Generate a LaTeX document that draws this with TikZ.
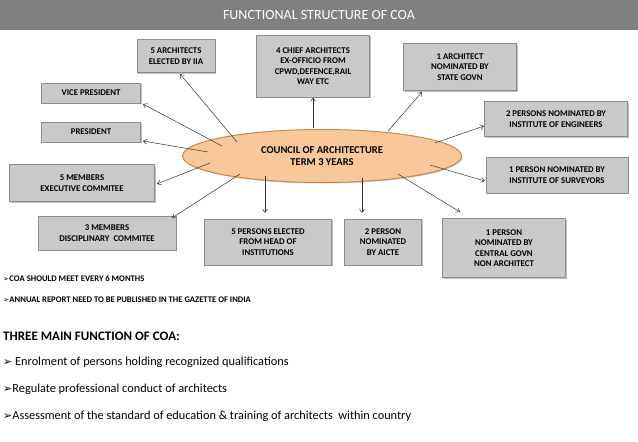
\documentclass[tikz,border=0pt]{standalone}
\usepackage{fontspec}
\setmainfont{Carlito}
\newfontfamily\djvfont{DejaVu Sans}
\usetikzlibrary{shadows,shapes.geometric,arrows.meta}
\definecolor{boxg}{HTML}{C9C9C9}
\definecolor{boxd}{HTML}{8C8C8C}
\definecolor{ell}{HTML}{F8C89A}
\definecolor{elld}{HTML}{C8874A}
\tikzset{
 bx/.style={draw=boxd,line width=1pt,fill=boxg,font=\fontsize{8.8}{10.3}\selectfont\bfseries,align=center,inner sep=1.5pt,drop shadow={shadow xshift=1.2pt,shadow yshift=-1.2pt,opacity=0.5}},
 ar/.style={-{Straight Barb[length=3.5pt,width=5pt]},line width=0.5pt,draw=black!80},
 bul/.style={anchor=west,inner sep=0pt},
}
\begin{document}
\begin{tikzpicture}[x=1pt,y=-1pt]
\useasboundingbox (0,0) rectangle (638,442);
\fill[white] (0,0) rectangle (638,442);
\fill[black!50] (0,0) rectangle (638,30);
\node[text=white,font=\fontsize{14}{16}\selectfont] (title) at (319,15) {FUNCTIONAL STRUCTURE OF COA};
\node[ellipse,draw=elld,line width=1pt,fill=ell,minimum width=279pt,minimum height=53pt,font=\fontsize{10.5}{12.5}\selectfont\bfseries,align=center,drop shadow={shadow xshift=1pt,shadow yshift=-1pt,opacity=0.4}] (coa) at (322,156) {COUNCIL OF ARCHITECTURE\\TERM 3 YEARS};
\node[bx,minimum width=78pt,minimum height=33pt] (iia) at (176,56) {5 ARCHITECTS\\ELECTED BY IIA};
\node[bx,minimum width=113pt,minimum height=62pt] (chief) at (313,66) {4 CHIEF ARCHITECTS\\EX-OFFICIO FROM\\CPWD,DEFENCE,RAIL\\WAY ETC};
\node[bx,minimum width=113pt,minimum height=47pt] (state) at (460,67) {1 ARCHITECT\\NOMINATED BY\\STATE GOVN};
\node[bx,minimum width=99pt,minimum height=20pt] (vp) at (91,93) {VICE PRESIDENT};
\node[bx,minimum width=99pt,minimum height=20pt] (pres) at (91,132) {PRESIDENT};
\node[bx,minimum width=143pt,minimum height=35pt] (eng) at (556,119) {2 PERSONS NOMINATED BY\\INSTITUTE OF ENGINEERS};
\node[bx,minimum width=142pt,minimum height=36pt] (surv) at (557,175) {1 PERSON NOMINATED BY\\INSTITUTE OF SURVEYORS};
\node[bx,minimum width=145pt,minimum height=37pt] (exec) at (82,183) {5 MEMBERS\\EXECUTIVE COMMITEE};
\node[bx,minimum width=138pt,minimum height=34pt] (disc) at (107,233) {3 MEMBERS\\DISCIPLINARY\ \ COMMITEE};
\node[bx,minimum width=127pt,minimum height=46pt] (heads) at (268,242) {5 PERSONS ELECTED\\FROM HEAD OF\\INSTITUTIONS};
\node[bx,minimum width=77pt,minimum height=46pt] (aicte) at (383,242) {2 PERSON\\NOMINATED\\BY AICTE};
\node[bx,minimum width=123pt,minimum height=59pt] (cent) at (504,248) {1 PERSON\\NOMINATED BY\\CENTRAL GOVN\\NON ARCHITECT};
\coordinate (s1) at (237,142); \coordinate (s2) at (313,128); \coordinate (s3) at (388,131);
\coordinate (s4) at (222,146); \coordinate (s5) at (208,152); \coordinate (s6) at (435,143);
\coordinate (s7) at (430,165); \coordinate (s8) at (210,163); \coordinate (s9) at (240,174);
\coordinate (s10) at (265,176); \coordinate (s11) at (362,178); \coordinate (s12) at (398,174);
\coordinate (e10) at (265,213); \coordinate (e11) at (362,213);
\draw[ar] (s1) -- (180,74);
\draw[ar] (s2) -- (chief.south);
\draw[ar] (s3) -- (422,92);
\draw[ar] (s4) -- (143,104);
\draw[ar] (s5) -- (143,141);
\draw[ar] (s6) -- (484,126);
\draw[ar] (s7) -- (485,181);
\draw[ar] (s8) -- (157,184);
\draw[ar] (s9) -- (172,218);
\draw[ar] (s10) -- (e10);
\draw[ar] (s11) -- (e11);
\draw[ar] (s12) -- (460,212);
\node[bul,font=\fontsize{8.6}{10}\selectfont\bfseries] (b1) at (3,279) {{\djvfont\fontsize{7.5}{9}\selectfont ➢}COA SHOULD MEET EVERY 6 MONTHS};
\node[bul,font=\fontsize{8.6}{10}\selectfont\bfseries] (b2) at (3,300) {{\djvfont\fontsize{7.5}{9}\selectfont ➢}ANNUAL REPORT NEED TO BE PUBLISHED IN THE GAZETTE OF INDIA};
\node[bul,font=\fontsize{13}{15}\selectfont\bfseries] (h) at (3,336) {THREE MAIN FUNCTION OF COA:};
\node[bul,font=\fontsize{12.3}{14}\selectfont] (f1) at (3,362) {{\djvfont\fontsize{11}{13}\selectfont ➢} Enrolment of persons holding recognized qualifications};
\node[bul,font=\fontsize{12.3}{14}\selectfont] (f2) at (3,389) {{\djvfont\fontsize{11}{13}\selectfont ➢}Regulate professional conduct of architects};
\node[bul,font=\fontsize{12.3}{14}\selectfont] (f3) at (3,416) {{\djvfont\fontsize{11}{13}\selectfont ➢}Assessment of the standard of education \& training of architects\ \ within country};
\end{tikzpicture}
\end{document}
